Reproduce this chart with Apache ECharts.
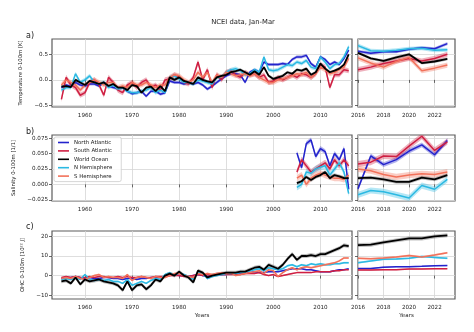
<!DOCTYPE html>
<html>
<head>
<meta charset="utf-8">
<script src="https://cdn.jsdelivr.net/npm/echarts@6/dist/echarts.min.js"></script>
<style>
  html, body { margin: 0; padding: 0; background: #fff; }
  #chart { width: 474px; height: 332px; }
</style>
</head>
<body>
<div id="chart"></div>
<script>
// ---- time axes ----
const histStart = 1955, histEnd = 2016;      // long record, left panels
const salStart = 2005;                        // salinity record starts later
const recStart = 2016, recEnd = 2023;         // recent years, right panels
const histTicks = [1960, 1970, 1980, 1990, 2000, 2010];
const recTicks = [2016, 2018, 2020, 2022];

// ---- region names and colours ----
const regions = ['North Atlantic', 'South Atlantic', 'World Ocean', 'N Hemisphere', 'S Hemisphere'];
const colors = ['#2323cc', '#cf1f42', '#000000', '#2bb9e2', '#f2715a'];

// ---- a) temperature 0-100m [K], 1955-2016 ----
const tempNA = [-0.15,-0.10,-0.13,-0.05,-0.10,-0.12,-0.08,-0.08,-0.12,-0.05,
  -0.12,-0.15,-0.17,-0.15,-0.22,-0.27,-0.25,-0.22,-0.32,-0.22,
  -0.22,-0.28,-0.25,-0.02,-0.05,-0.05,-0.08,-0.05,-0.08,-0.05,
  -0.10,-0.18,-0.12,-0.05,0.02,0.08,0.12,0.12,0.10,-0.05,
  0.15,0.20,0.15,0.35,0.30,0.30,0.30,0.32,0.30,0.40,
  0.45,0.45,0.48,0.32,0.25,0.45,0.40,0.30,0.35,0.30,
  0.42,0.58];
const tempSA = [-0.38,0.05,-0.10,-0.15,-0.30,-0.25,-0.05,0.00,-0.10,-0.30,
  0.05,-0.05,-0.20,-0.25,-0.10,-0.05,-0.15,-0.05,0.00,-0.15,
  -0.10,-0.20,0.00,0.02,0.10,0.05,-0.05,-0.08,0.05,0.35,
  0.00,0.20,-0.15,0.10,0.00,0.15,0.18,0.10,0.05,0.15,
  0.10,0.12,0.05,0.10,-0.05,-0.02,0.05,0.00,0.05,0.10,
  0.05,0.12,0.10,0.05,0.12,0.30,0.25,-0.15,0.10,0.10,
  0.20,0.18];
const tempWO = [-0.13,-0.12,-0.14,0.00,-0.05,-0.10,-0.02,-0.05,-0.08,-0.05,
  -0.12,-0.08,-0.15,-0.15,-0.20,-0.10,-0.12,-0.25,-0.15,-0.13,
  -0.22,-0.12,-0.22,0.05,0.00,0.05,-0.02,-0.05,-0.08,0.05,
  0.00,-0.03,-0.05,0.05,0.08,0.10,0.15,0.17,0.20,0.15,
  0.10,0.17,0.10,0.25,0.08,0.02,0.05,0.08,0.15,0.12,
  0.20,0.18,0.22,0.10,0.15,0.32,0.22,0.15,0.18,0.22,
  0.30,0.50];
const tempNH = [-0.20,-0.15,-0.15,0.12,-0.05,0.00,0.08,-0.05,-0.08,-0.05,
  -0.15,-0.10,-0.18,-0.15,-0.22,-0.25,-0.25,-0.22,-0.20,-0.15,
  -0.25,-0.20,-0.25,0.05,0.08,0.02,-0.05,-0.05,-0.08,0.00,
  -0.02,-0.05,-0.08,0.05,0.05,0.15,0.20,0.22,0.18,0.10,
  0.12,0.20,0.15,0.45,0.20,0.18,0.20,0.25,0.30,0.28,
  0.35,0.32,0.38,0.25,0.22,0.45,0.35,0.22,0.30,0.32,
  0.45,0.65];
const tempSH = [-0.10,0.00,-0.05,-0.10,-0.20,-0.10,-0.05,0.00,-0.05,-0.10,
  -0.05,-0.05,-0.15,-0.12,-0.15,-0.05,-0.10,-0.10,-0.05,-0.10,
  -0.15,-0.10,-0.10,0.05,0.10,0.08,0.00,-0.05,0.00,0.15,
  0.05,0.15,-0.05,0.10,0.05,0.15,0.12,0.08,0.10,0.12,
  0.08,0.12,0.05,0.00,-0.05,-0.05,0.00,0.02,0.05,0.08,
  0.12,0.10,0.15,0.05,0.12,0.25,0.20,0.12,0.15,0.20,
  0.25,0.42];
// 2016-2023
const tempNARec = [0.56,0.52,0.55,0.55,0.60,0.63,0.61,0.71];
const tempSARec = [0.20,0.25,0.32,0.37,0.42,0.37,0.42,0.50];
const tempWORec = [0.53,0.42,0.37,0.44,0.50,0.33,0.36,0.41];
const tempNHRec = [0.67,0.57,0.56,0.58,0.61,0.62,0.58,0.59];
const tempSHRec = [0.43,0.33,0.25,0.36,0.44,0.18,0.23,0.29];

// ---- b) salinity 0-100m [1/1], 2005-2016 ----
const salNA = [0.051,0.027,0.066,0.072,0.045,0.058,0.053,0.030,0.050,0.040,0.058,-0.008];
const salSA = [0.020,0.040,0.030,0.020,0.025,0.030,0.035,0.025,0.040,0.030,0.040,0.030];
const salWO = [0.002,0.005,0.012,0.007,0.012,0.015,0.020,0.010,0.015,0.013,0.010,0.010];
const salNH = [-0.005,0.000,0.020,0.018,0.025,0.028,0.030,0.015,0.025,0.035,0.020,-0.015];
const salSH = [0.010,0.015,0.000,0.010,0.015,0.018,0.015,0.012,0.010,0.010,0.008,0.015];
// 2016-2023
const salNARec = [-0.007,0.046,0.032,0.040,0.054,0.064,0.048,0.071];
const salSARec = [0.033,0.036,0.046,0.045,0.062,0.078,0.055,0.069];
const salWORec = [0.010,0.011,0.008,0.004,0.004,0.011,0.008,0.015];
const salNHRec = [-0.017,-0.010,-0.012,-0.017,-0.022,-0.002,-0.008,0.008];
const salSHRec = [0.025,0.022,0.016,0.012,0.015,0.017,0.016,0.020];

// ---- c) ocean heat content 0-100m [10^22 J], 1955-2016 ----
const ohcNA = [-1.5,-1,-1,-0.5,-1,-1.5,-1,-1.5,-1.5,-1,
  -1,-1.5,-1.5,-2,-1.5,-1.5,-2,-1.5,-1.5,-1,
  -1,-1,-0.5,0,0.5,0,0,-0.5,0,0.5,
  0,-0.5,0,0.5,0.5,0.5,1,1,1,1.5,
  1.5,2,1.5,1.5,2,2,2,2.5,3,3.5,
  3.5,3.5,3,3,2.5,2,2,2,2.5,3,
  3,3.5];
const ohcSA = [-1,-0.5,-1,-0.5,-1,-1,-0.5,-1,-0.5,-0.5,
  -1,-1,-0.5,-1,-0.5,-1,-1,-0.5,-1,-1,
  -0.5,-0.5,-0.5,0,0,0,-0.5,-0.5,0,0.5,
  0,0.5,0,0.5,0.5,0.5,0.5,0.5,0.5,1,
  1,1,1.5,0.5,0,0.5,-0.5,0,0.5,1,
  1.5,1.5,1.5,1.5,2,2,2,2,2.5,2.5,
  3,3];
const ohcWO = [-3,-2.5,-4,-1,-4.5,-2,-3,-2.5,-2,-3,
  -3.5,-4,-5,-7.5,-3,-7.5,-5,-4.5,-7,-5,
  -2,-3,0,1,0,2,0,-1,-3.5,2.5,
  1.5,-1,0,0.5,1,1.5,1.5,1.5,2,2,
  3,4,4.5,3,5.5,4.5,3.5,5.5,8.5,11,
  8,10,10,10.5,10,11,11,12,13,14,
  15.5,15];
const ohcNH = [-2,-1.5,-2,-1,-2,0.5,-2,-2.5,-2,-2.5,
  -2,-3,-3,-4,-2,-5,-4,-3,-4,-2.5,
  -1.5,-2,0.5,1.5,0,1.5,0.5,-0.5,-2,1.5,
  1,-1.5,-0.5,0,0.5,1,1,1,1.5,1.5,
  2.5,3,3.5,2.5,4,3.5,3,3.5,5,5.5,
  4.5,5.5,5,6,5.5,6,5.5,5.5,6,6,
  6.5,6.5];
const ohcSH = [-1.5,-1,-1.5,-0.5,-1.5,-2,-1,0,0.5,-1,
  -0.5,-1,-1,-1.5,0.5,-2.5,-1,-0.5,-1,-1.5,
  -0.5,-1,-1,0,1,1,0,-0.5,-1,1,
  0.5,1,0.5,1,1.5,1,1.5,0,0.5,1,
  1.5,2,2.5,1,3,2.5,-0.5,1.5,3,4,
  3,4,4.5,4,4.5,5,5.5,6,6.5,7.5,
  9,9];
// 2016-2023
const ohcNARec = [3.6,3.6,4.3,4.5,4.5,4.7,5.0,5.1];
const ohcSARec = [2.9,2.8,3.0,3.0,3.3,3.4,3.5,3.5];
const ohcWORec = [15.6,15.8,17.0,18.0,19.0,19.0,20.0,20.6];
const ohcNHRec = [6.6,7.5,8.3,8.5,8.8,9.7,9.3,8.8];
const ohcSHRec = [8.8,8.6,9.0,9.5,10.3,9.5,10.5,11.7];

// ---- uncertainty half-widths for the shaded bands (per region) ----
const tempSpread = [0.03, 0.05, 0.03, 0.04, 0.05];
const salSpread = [0.004, 0.005, 0.003, 0.005, 0.005];
const ohcSpread = [0.3, 0.3, 1.0, 0.5, 0.5];

// year lists
function yearRange(a, b) { const out = []; for (let y = a; y <= b; y++) out.push(y); return out; }
const histYears = yearRange(histStart, histEnd);
const salYears = yearRange(salStart, histEnd);
const recYears = yearRange(recStart, recEnd);

const FONT = 'DejaVu Sans';
const minus = s => String(s).replace('-', '\u2212');

const series = [];
function addRegion(axisIdx, years, vals, half, r) {
  const col = colors[r];
  const bandCol = r === 2 ? '#4a4a4a' : col;
  // shaded uncertainty band: one polygon along the upper edge and back along the lower edge
  series.push({
    type: 'custom', name: 'band' + axisIdx + r, xAxisIndex: axisIdx, yAxisIndex: axisIdx,
    data: years.map((y, i) => [y, vals[i] - half, vals[i] + half]),
    silent: true, clip: true, z: 1,
    renderItem: function (params, api) {
      if (params.dataIndex !== 0) return { type: 'group', children: [] };
      const pts = [];
      for (let i = 0; i < years.length; i++) pts.push(api.coord([years[i], vals[i] + half]));
      for (let i = years.length - 1; i >= 0; i--) pts.push(api.coord([years[i], vals[i] - half]));
      const cs = params.coordSys;
      return {
        type: 'polygon', shape: { points: pts },
        style: { fill: bandCol, opacity: 0.35 },
        clipPath: { type: 'rect', shape: { x: cs.x, y: cs.y, width: cs.width, height: cs.height } }
      };
    }
  });
  series.push({
    type: 'line', name: regions[r], xAxisIndex: axisIdx, yAxisIndex: axisIdx,
    data: years.map((y, i) => [y, vals[i]]),
    symbol: 'none', silent: true,
    lineStyle: { color: col, width: r === 2 ? 1.8 : 1.5 },
    itemStyle: { color: col },
    z: r === 2 ? 5 : 3
  });
}

const panels = [
  { years: histYears, sets: [tempNA, tempSA, tempWO, tempNH, tempSH], spread: tempSpread },
  { years: recYears, sets: [tempNARec, tempSARec, tempWORec, tempNHRec, tempSHRec], spread: tempSpread },
  { years: salYears, sets: [salNA, salSA, salWO, salNH, salSH], spread: salSpread },
  { years: recYears, sets: [salNARec, salSARec, salWORec, salNHRec, salSHRec], spread: salSpread },
  { years: histYears, sets: [ohcNA, ohcSA, ohcWO, ohcNH, ohcSH], spread: ohcSpread },
  { years: recYears, sets: [ohcNARec, ohcSARec, ohcWORec, ohcNHRec, ohcSHRec], spread: ohcSpread }
];
// draw order: NA, SA, NH, SH, then World Ocean on top
const order = [0, 1, 3, 4, 2];
panels.forEach((p, idx) => order.forEach(r => addRegion(idx, p.years, p.sets[r], p.spread[r], r)));

// ---- layout ----
const rowTops = [39, 135, 231];
const rowHeights = [68, 66, 68];
const grids = [];
rowTops.forEach((t, i) => {
  grids.push({ left: 52, top: t, width: 300, height: rowHeights[i], show: true, borderColor: '#5c5c5c', borderWidth: 1.2 });
  grids.push({ left: 358, top: t, width: 97, height: rowHeights[i], show: true, borderColor: '#5c5c5c', borderWidth: 1.2 });
});

const gridLine = { show: true, lineStyle: { color: '#d6d6d6', width: 0.8 } };
const tickStyle = { show: true, length: 3, inside: false, lineStyle: { color: '#444', width: 0.8 } };
const labelBase = { color: '#222', fontFamily: FONT, fontSize: 5.6 };
const yearFmt = v => String(Math.round(v));

const xAxes = [];
for (let row = 0; row < 3; row++) {
  const last = row === 2;
  xAxes.push({
    type: 'value', gridIndex: row * 2, min: 1953, max: 2016.7,
    axisLine: { show: false },
    axisTick: Object.assign({ customValues: histTicks }, tickStyle),
    axisLabel: Object.assign({ customValues: histTicks, formatter: yearFmt, margin: 6 }, labelBase),
    splitLine: gridLine,
    name: last ? 'Years' : '', nameLocation: 'middle', nameGap: 14,
    nameTextStyle: { fontFamily: FONT, fontSize: 5.5, color: '#222' }
  });
  xAxes.push({
    type: 'value', gridIndex: row * 2 + 1, min: 2016, max: 2023.6,
    axisLine: { show: false },
    axisTick: Object.assign({ customValues: recTicks }, tickStyle),
    axisLabel: Object.assign({ customValues: recTicks, formatter: yearFmt, margin: 6 }, labelBase),
    splitLine: gridLine,
    name: last ? 'Years' : '', nameLocation: 'middle', nameGap: 14,
    nameTextStyle: { fontFamily: FONT, fontSize: 5.5, color: '#222' }
  });
}

const yDefs = [
  { min: -0.53, max: 0.8, ticks: [-0.5, 0, 0.5], fmt: v => minus(v.toFixed(1)), name: 'Temperature 0-100m [K]', gap: 15 },
  { min: -0.027, max: 0.080, ticks: [-0.025, 0, 0.025, 0.05, 0.075], fmt: v => minus(v.toFixed(3)), name: 'Salinity 0-100m [1/1]', gap: 26 },
  { min: -12, max: 22.8, ticks: [-10, 0, 10, 20], fmt: v => minus(v.toFixed(0)), name: 'OHC 0-100m [10\u00b2\u00b2 J]', gap: 14 }
];
const yAxes = [];
yDefs.forEach((d, row) => {
  yAxes.push({
    type: 'value', gridIndex: row * 2, min: d.min, max: d.max,
    axisLine: { show: false },
    axisTick: Object.assign({ customValues: d.ticks }, tickStyle),
    axisLabel: Object.assign({ customValues: d.ticks, formatter: d.fmt, margin: 4 }, labelBase),
    splitLine: gridLine,
    name: d.name, nameLocation: 'middle', nameGap: d.gap, nameRotate: 90,
    nameTextStyle: { fontFamily: FONT, fontSize: 5.3, color: '#222' }
  });
  yAxes.push({
    type: 'value', gridIndex: row * 2 + 1, min: d.min, max: d.max,
    axisLine: { show: false },
    axisTick: Object.assign({ customValues: d.ticks }, tickStyle),
    axisLabel: { show: false, customValues: d.ticks },
    splitLine: gridLine
  });
});

const chart = echarts.init(document.getElementById('chart'), null, { renderer: 'canvas' });
chart.setOption({
  animation: false,
  backgroundColor: '#ffffff',
  textStyle: { fontFamily: FONT },
  title: [
    { text: 'NCEI data, Jan-Mar', left: 238, top: 14, textAlign: 'center',
      textStyle: { fontFamily: FONT, fontSize: 6.8, fontWeight: 'normal', color: '#222' } },
    { text: 'a)', left: 21, top: 27, textStyle: { fontFamily: FONT, fontSize: 8, fontWeight: 'normal', color: '#222' } },
    { text: 'b)', left: 21, top: 123, textStyle: { fontFamily: FONT, fontSize: 8, fontWeight: 'normal', color: '#222' } },
    { text: 'c)', left: 21, top: 218, textStyle: { fontFamily: FONT, fontSize: 8, fontWeight: 'normal', color: '#222' } }
  ],
  legend: {
    data: regions, orient: 'vertical', left: 54, top: 137,
    icon: 'rect', itemWidth: 11, itemHeight: 1.6, itemGap: 3.4,
    padding: [3, 9, 3, 4],
    backgroundColor: 'rgba(255,255,255,0.85)', borderColor: '#cccccc', borderWidth: 0.8, borderRadius: 2,
    textStyle: { fontFamily: FONT, fontSize: 5.4, color: '#222' },
    selectedMode: false
  },
  grid: grids,
  xAxis: xAxes,
  yAxis: yAxes,
  series: series
});
</script>
</body>
</html>
